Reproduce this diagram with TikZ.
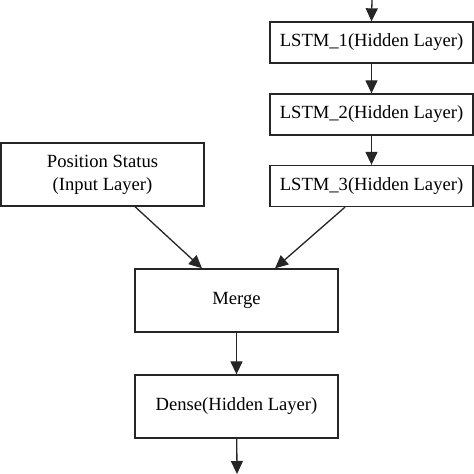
\documentclass[tikz,border=0pt]{standalone}
\usepackage{fontspec}
\setmainfont{Liberation Serif}
\usetikzlibrary{arrows.meta}
\begin{document}
\begin{tikzpicture}[x=1pt,y=1pt,
  box/.style={draw=black!85, line width=1.3pt, fill=white, inner sep=0pt, minimum width=203pt, align=center, font=\fontsize{18.6}{23}\selectfont},
  arr/.style={-{Triangle[length=13pt,width=12pt]}, line width=1.3pt, draw=black!85, fill=black!85}]
\useasboundingbox (0,0) rectangle (474,474);
\node[box, minimum height=41pt] (l1) at (371.5,431.5) {LSTM\_1(Hidden Layer)};
\node[box, minimum height=41pt] (l2) at (371.5,359.5) {LSTM\_2(Hidden Layer)};
\node[box, minimum height=41pt] (l3) at (371.5,288) {LSTM\_3(Hidden Layer)};
\node[box, minimum height=63pt] (pos) at (102.5,299.5) {Position Status\\(Input Layer)};
\node[box, minimum height=63pt] (merge) at (236.5,173.5) {Merge};
\node[box, minimum height=63pt] (dense) at (236.5,67.5) {Dense(Hidden Layer)};
\coordinate (top) at (372,474);
\coordinate (bot) at (237,0);
\draw[arr] (top) -- (l1.north);
\draw[arr] (l1) -- (l2);
\draw[arr] (l2) -- (l3);
\draw[arr] (pos.south -| 135,0) -- (merge.north -| 202,0);
\draw[arr] (l3.south -| 345,0) -- (merge.north -| 275,0);
\draw[arr] (merge) -- (dense);
\draw[arr] (dense) -- (bot);
\end{tikzpicture}
\end{document}
